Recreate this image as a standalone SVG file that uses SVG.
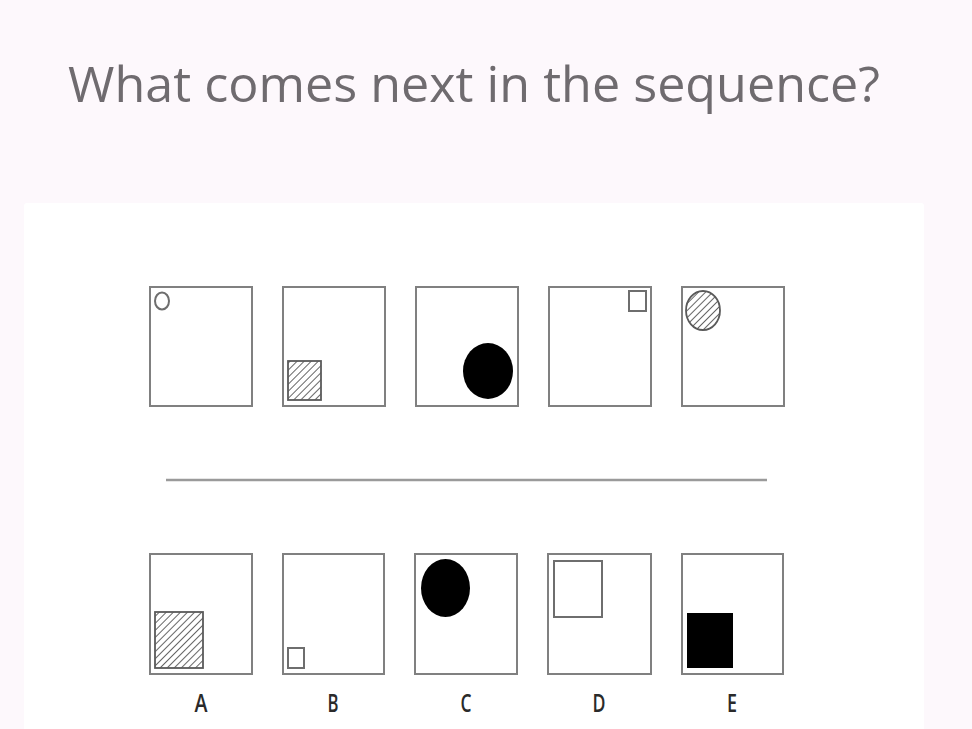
<svg xmlns="http://www.w3.org/2000/svg" width="972" height="729" viewBox="0 0 972 729">
  <defs>
    <pattern id="hatch" patternUnits="userSpaceOnUse" width="5" height="5" patternTransform="rotate(45)">
      <rect width="5" height="5" fill="#ffffff"/>
      <line x1="0" y1="0" x2="0" y2="5" stroke="#555555" stroke-width="1.8"/>
    </pattern>
    <style>
      .frame { fill: #ffffff; stroke: #808080; stroke-width: 2; }
      .outline { fill: #ffffff; stroke: #6e6e6e; stroke-width: 2; }
      .hatched { fill: url(#hatch); stroke: #5a5a5a; stroke-width: 1.8; }
      .solid { fill: #000000; }
      .label { font-family: "Open Sans", "Noto Sans", sans-serif; font-size: 25px; font-weight: 600; fill: #2a2a2a; text-anchor: middle; }
      .title { font-family: "Open Sans", "Noto Sans", sans-serif; font-size: 49px; fill: #6f6b6f; }
    </style>
  </defs>
  <rect x="0" y="0" width="972" height="729" fill="#fdf8fc"/>
  <rect x="24" y="203" width="900" height="540" rx="3" fill="#ffffff"/>
  <text class="title" x="68" y="102" textLength="812" lengthAdjust="spacingAndGlyphs">What comes next in the sequence?</text>

  <g id="seq1">
    <rect class="frame" x="150" y="287" width="102" height="119"/>
    <ellipse class="outline" cx="162" cy="301" rx="7" ry="8.5"/>
  </g>
  <g id="seq2">
    <rect class="frame" x="283" y="287" width="102" height="119"/>
    <rect class="hatched" x="288" y="361" width="33" height="39"/>
  </g>
  <g id="seq3">
    <rect class="frame" x="416" y="287" width="102" height="119"/>
    <ellipse class="solid" cx="488" cy="371" rx="25" ry="28"/>
  </g>
  <g id="seq4">
    <rect class="frame" x="549" y="287" width="102" height="119"/>
    <rect class="outline" x="629" y="291" width="17" height="20"/>
  </g>
  <g id="seq5">
    <rect class="frame" x="682" y="287" width="102" height="119"/>
    <ellipse class="hatched" cx="703" cy="310.5" rx="17" ry="19.5"/>
  </g>

  <g id="separator">
    <line x1="166" y1="480" x2="767" y2="480" stroke="#9a9a9a" stroke-width="2.5"/>
  </g>

  <g id="optA">
    <rect class="frame" x="150" y="554" width="102" height="120"/>
    <rect class="hatched" x="155" y="612" width="48" height="56"/>
    <text class="label" x="201" y="712" textLength="13" lengthAdjust="spacingAndGlyphs">A</text>
  </g>
  <g id="optB">
    <rect class="frame" x="283" y="554" width="101" height="120"/>
    <rect class="outline" x="288" y="648" width="16" height="20"/>
    <text class="label" x="333" y="712" textLength="11" lengthAdjust="spacingAndGlyphs">B</text>
  </g>
  <g id="optC">
    <rect class="frame" x="415" y="554" width="102" height="120"/>
    <ellipse class="solid" cx="445.5" cy="588" rx="24.5" ry="29"/>
    <text class="label" x="466" y="712" textLength="11" lengthAdjust="spacingAndGlyphs">C</text>
  </g>
  <g id="optD">
    <rect class="frame" x="548" y="554" width="103" height="120"/>
    <rect class="outline" x="554" y="561" width="48" height="56"/>
    <text class="label" x="599" y="712" textLength="13" lengthAdjust="spacingAndGlyphs">D</text>
  </g>
  <g id="optE">
    <rect class="frame" x="682" y="554" width="101" height="120"/>
    <rect class="solid" x="687" y="613" width="46" height="55"/>
    <text class="label" x="732" y="712" textLength="10" lengthAdjust="spacingAndGlyphs">E</text>
  </g>
</svg>
